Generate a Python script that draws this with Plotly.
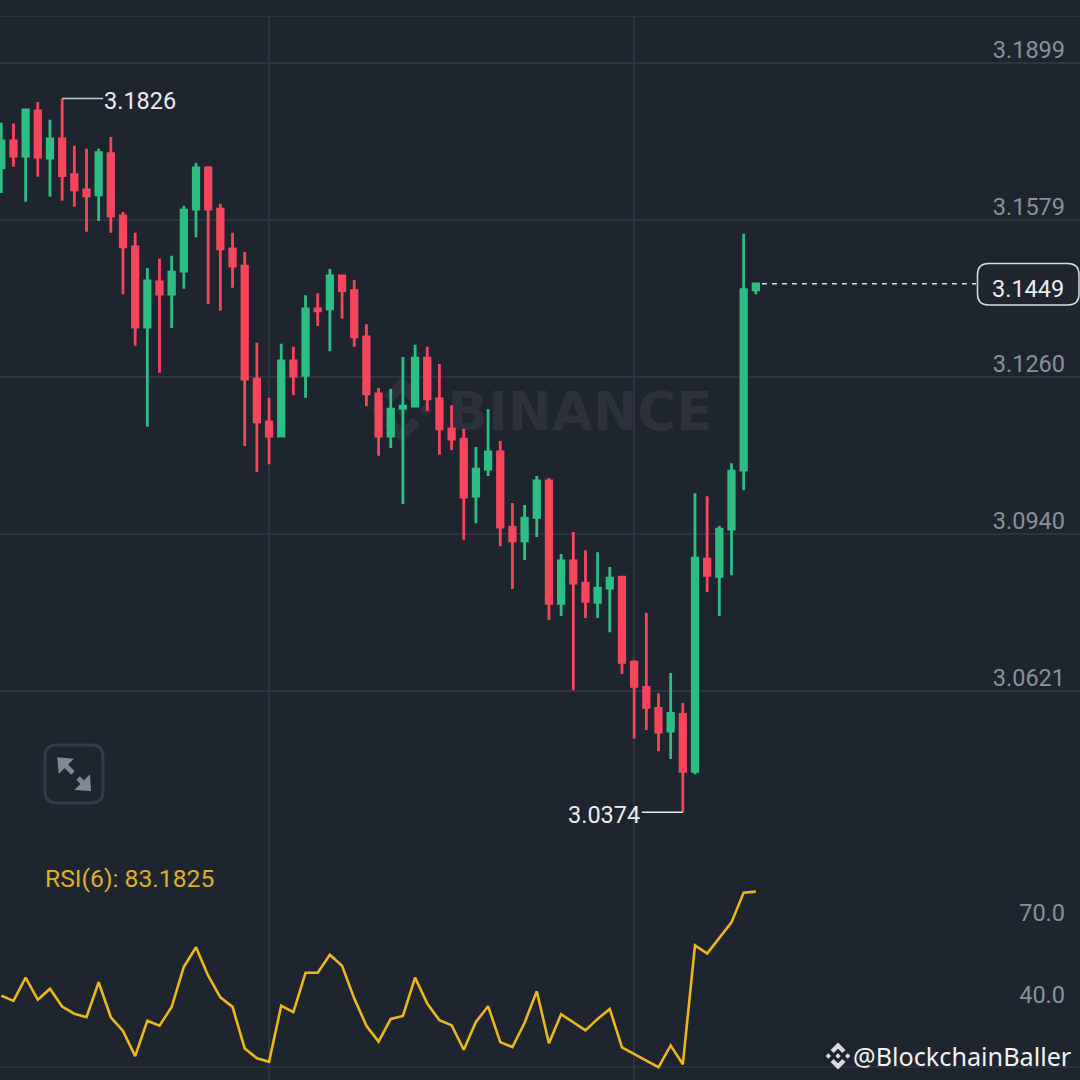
import plotly.graph_objects as go

# ---- data ----
opens = [3.1685,3.1740,3.1709,3.1801,3.1705,3.1744,3.1671,3.1640,3.1630,3.1714,
         3.1587,3.1524,3.1361,3.1453,3.1428,3.1475,3.1601,3.1685,3.1601,3.1520,
         3.1485,3.1255,3.1168,3.1139,3.1292,3.1263,3.1398,3.1398,3.1465,3.1435,
         3.1341,3.1225,3.1139,3.1196,3.1200,3.1298,3.1215,3.1154,3.1133,3.1017,
         3.1072,3.1107,3.0954,3.0926,3.0974,3.1048,3.0799,3.0885,3.0840,3.0801,
         3.0830,3.0852,3.0679,3.0628,3.0585,3.0539,3.0573,3.0457,3.0889,3.0854,
         3.0950,3.1070,3.1437]
highs = [3.1777,3.1775,3.1805,3.1819,3.1783,3.1826,3.1730,3.1724,3.1724,3.1748,
         3.1595,3.1553,3.1481,3.1500,3.1506,3.1608,3.1695,3.1689,3.1612,3.1553,
         3.1514,3.1329,3.1217,3.1327,3.1321,3.1426,3.1430,3.1479,3.1465,3.1457,
         3.1367,3.1237,3.1235,3.1300,3.1325,3.1321,3.1286,3.1202,3.1154,3.1117,
         3.1194,3.1129,3.1003,3.0999,3.1058,3.1054,3.0899,3.0944,3.0907,3.0903,
         3.0873,3.0854,3.0683,3.0779,3.0616,3.0657,3.0596,3.1023,3.1017,3.0956,
         3.1084,3.1551,3.1451]
lows = [3.1634,3.1687,3.1616,3.1667,3.1626,3.1618,3.1606,3.1555,3.1577,3.1553,
        3.1428,3.1323,3.1158,3.1268,3.1359,3.1439,3.1544,3.1408,3.1394,3.1441,
        3.1119,3.1066,3.1082,3.1139,3.1223,3.1217,3.1363,3.1312,3.1378,3.1321,
        3.1200,3.1099,3.1115,3.1001,3.1200,3.1190,3.1101,3.1111,3.0928,3.0962,
        3.1058,3.0915,3.0828,3.0887,3.0934,3.0765,3.0773,3.0622,3.0769,3.0769,
        3.0740,3.0655,3.0524,3.0541,3.0498,3.0482,3.0374,3.0451,3.0822,3.0773,
        3.0856,3.1029,3.1428]
closes = [3.1740,3.1709,3.1803,3.1707,3.1744,3.1669,3.1640,3.1628,3.1716,3.1587,
          3.1524,3.1361,3.1455,3.1428,3.1473,3.1599,3.1685,3.1601,3.1520,3.1485,
          3.1255,3.1168,3.1139,3.1292,3.1261,3.1398,3.1394,3.1465,3.1435,3.1341,
          3.1225,3.1139,3.1194,3.1200,3.1298,3.1215,3.1154,3.1133,3.1015,3.1072,
          3.1107,3.0954,3.0926,3.0972,3.1048,3.0799,3.0885,3.0840,3.0803,3.0830,
          3.0850,3.0679,3.0630,3.0587,3.0537,3.0575,3.0457,3.0891,3.0856,3.0950,
          3.1068,3.1437,3.1449]
rsi = [45.1,43.2,51.7,43.6,47.6,41.1,38.5,37.2,50.0,37.2,
       32.2,23.0,35.9,34.1,41.0,55.7,62.8,52.4,44.5,41.0,
       25.8,22.2,20.9,41.4,39.1,53.5,53.5,60.1,56.0,44.1,
       34.1,28.3,36.6,37.7,51.7,42.2,36.1,34.3,25.3,35.5,
       41.2,28.1,26.3,35.2,46.7,27.7,38.3,35.4,32.4,36.6,
       40.2,26.2,23.6,21.3,18.9,26.9,20.0,63.5,60.5,66.1,
       71.9,82.8,83.18]
price_ticks = [3.1899, 3.1579, 3.1260, 3.0940, 3.0621, 3.0301]
rsi_ticks = [70.0, 40.0]
time_grid = [22, 52]
last_price = 3.1449
high_label = 3.1826
low_label = 3.0374
high_idx = 5
low_idx = 56

BG = "#1F252F"
GRID = "#2E343F"
GREEN = "#2EBD85"
RED = "#F6465D"
GOLD = "#ECB61D"
AXIS_TXT = "#8A909B"
WHITE = "#EAECEF"
WM = "#2C313C"
FONT = "Roboto"

idx = list(range(len(opens)))
W = H = 1080
STEP = 12.17
X0 = 1.3
x_range = [(0 - X0) / STEP, (W - X0) / STEP]


def px(x, y):
    return x / W, 1 - y / H


def poly(points):
    parts = []
    for k, (x, y) in enumerate(points):
        a, b = px(x, y)
        parts.append(("M" if k == 0 else "L") + f"{a:.5f},{b:.5f}")
    return " ".join(parts) + " Z"


def round_rect(x0, y0, x1, y1, r):
    def P(x, y):
        a, b = px(x, y)
        return f"{a:.5f},{b:.5f}"
    return (f"M{P(x0+r,y0)} L{P(x1-r,y0)} Q{P(x1,y0)} {P(x1,y0+r)} L{P(x1,y1-r)} Q{P(x1,y1)} {P(x1-r,y1)} "
            f"L{P(x0+r,y1)} Q{P(x0,y1)} {P(x0,y1-r)} L{P(x0,y0+r)} Q{P(x0,y0)} {P(x0+r,y0)} Z")


def logo(cx, cy, r, color, layer="above"):
    out = []
    polys = []
    for dx in (-0.72, 0, 0.72):
        d = 0.2
        polys.append([(dx, -d), (dx + d, 0), (dx, d), (dx - d, 0)])
    top = [(0, -1), (.55, -.45), (.32, -.22), (0, -.54), (-.32, -.22), (-.55, -.45)]
    polys.append(top)
    polys.append([(a, -b) for a, b in top])
    for p in polys:
        out.append(dict(type="path", xref="paper", yref="paper", layer=layer, line_width=0, fillcolor=color,
                        path=poly([(cx + a * r, cy + b * r) for a, b in p])))
    return out


fig = go.Figure()
fig.add_trace(go.Candlestick(
    x=idx, open=opens, high=highs, low=lows, close=closes,
    xaxis="x", yaxis="y", whiskerwidth=0,
    increasing=dict(line=dict(color=GREEN, width=2.8), fillcolor=GREEN),
    decreasing=dict(line=dict(color=RED, width=2.8), fillcolor=RED),
    hoverinfo="skip", showlegend=False))
fig.add_trace(go.Scatter(
    x=idx, y=rsi, mode="lines", xaxis="x2", yaxis="y2",
    line=dict(color=GOLD, width=2.6), hoverinfo="skip", showlegend=False))

shapes = []
# top border and RSI panel bottom line
shapes.append(dict(type="line", xref="paper", yref="y", x0=0, x1=1, y0=3.1994, y1=3.1994,
                   line=dict(color=GRID, width=1.5), layer="below"))
shapes.append(dict(type="line", xref="paper", yref="y2", x0=0, x1=1, y0=19, y1=19,
                   line=dict(color=GRID, width=1.5), layer="below"))
# watermark
a, b = px(440, 382)
c, d = px(720, 432)
shapes.append(dict(type="rect", xref="paper", yref="paper", x0=a, x1=c, y0=d, y1=b, layer="below",
                   line_width=0, fillcolor="rgba(0,0,0,0)",
                   label=dict(text="<b>BINANCE</b>", textposition="middle center",
                              font=dict(family="DejaVu Sans", size=53, color=WM))))
shapes += logo(402, 410, 33, WM, layer="below")
# high / low leaders
shapes.append(dict(type="line", xref="x", yref="y", x0=high_idx, x1=high_idx + 41 / STEP, y0=high_label, y1=high_label,
                   line=dict(color="#C9CCD2", width=1.5)))
shapes.append(dict(type="line", xref="x", yref="y", x0=low_idx, x1=low_idx - 41 / STEP, y0=low_label, y1=low_label,
                   line=dict(color=WHITE, width=1.5)))
# last price line and box
shapes.append(dict(type="line", xref="x", yref="y", x0=len(opens) - 1 + 0.5, x1=(976 - X0) / STEP,
                   y0=last_price, y1=last_price, line=dict(color="#D8DBE0", width=1.5, dash="5px,5px")))
shapes.append(dict(type="path", xref="paper", yref="paper", path=round_rect(977.5, 263.5, 1079, 305, 11),
                   line=dict(color="#D8DBE0", width=1.5), fillcolor=BG))
# expand icon
shapes.append(dict(type="path", xref="paper", yref="paper", path=round_rect(45, 745, 103, 803, 12),
                   line=dict(color="#353B47", width=3), fillcolor="rgba(0,0,0,0)"))
ICON = "#7F8897"
shapes.append(dict(type="path", xref="paper", yref="paper", line_width=0, fillcolor=ICON,
                   path=poly([(57.3, 757.3), (74, 758.7), (58.7, 774)])))
shapes.append(dict(type="path", xref="paper", yref="paper", line_width=0, fillcolor=ICON,
                   path=poly([(91, 791), (74.3, 790), (90, 774.3)])))
for p0, p1 in (((65, 765), (73, 773)), ((78, 778), (84, 784))):
    (x0, y0), (x1, y1) = px(*p0), px(*p1)
    shapes.append(dict(type="line", xref="paper", yref="paper", x0=x0, y0=y0, x1=x1, y1=y1,
                       line=dict(color=ICON, width=5)))
shapes += logo(838, 1056, 13.5, "#DADCE0")

anns = [
    dict(xref="x", yref="y", x=high_idx + 40 / STEP, y=high_label, xanchor="left", yanchor="middle", yshift=-2,
         text=f"{high_label:.4f}", showarrow=False, font=dict(family=FONT, size=23.5, color=WHITE)),
    dict(xref="x", yref="y", x=low_idx - 41 / STEP, y=low_label, xanchor="right", yanchor="middle", yshift=-3,
         text=f"{low_label:.4f}", showarrow=False, font=dict(family=FONT, size=23.5, color=WHITE)),
    dict(xref="paper", yref="y", x=1066 / W, y=last_price, xanchor="right", yanchor="middle", yshift=-5,
         text=f"{last_price:.4f}", showarrow=False, font=dict(family=FONT, size=23.5, color=WHITE)),
    dict(xref="paper", yref="paper", x=43 / W, y=1 - 878 / H, xanchor="left", yanchor="middle",
         text="RSI(6): 83.1825", showarrow=False, font=dict(family=FONT, size=24.7, color="#DDB02A")),
    dict(xref="paper", yref="paper", x=1074 / W, y=1 - 1056 / H, xanchor="right", yanchor="middle",
         text="@BlockchainBaller", showarrow=False, font=dict(family="Noto Sans", size=25.2, color="#F0F1F3")),
]

fig.update_layout(
    width=W, height=H, autosize=False, margin=dict(l=0, r=0, t=0, b=0, pad=0),
    paper_bgcolor=BG, plot_bgcolor=BG, showlegend=False, hovermode=False,
    boxgap=0.36,
    font=dict(family=FONT, color=AXIS_TXT),
    xaxis=dict(domain=[0, 1], range=x_range, anchor="y", tickvals=time_grid, showticklabels=False, ticks="",
               showgrid=True, gridcolor=GRID, gridwidth=1.5, zeroline=False, showline=False,
               rangeslider=dict(visible=False), fixedrange=True),
    xaxis2=dict(domain=[0, 1], range=x_range, anchor="y2", tickvals=time_grid, showticklabels=False, ticks="",
                showgrid=True, gridcolor=GRID, gridwidth=1.5, zeroline=False, showline=False, fixedrange=True),
    yaxis=dict(domain=[1 - 848 / H, 1 - 16 / H], range=[3.0301, 3.1994], anchor="x", side="right",
               tickvals=price_ticks, ticktext=[f"{v:.4f}" for v in price_ticks],
               ticklabelposition="inside", ticklabelshift=-13, ticklabelstandoff=12, ticks="",
               tickfont=dict(family=FONT, size=23.5, color=AXIS_TXT),
               showgrid=True, gridcolor=GRID, gridwidth=1.5, zeroline=False, showline=False, fixedrange=True),
    yaxis2=dict(domain=[0, 1 - 848 / H], range=[14.24, 99.13], anchor="x2", side="right",
                tickvals=rsi_ticks, ticktext=[f"{v:.1f}" for v in rsi_ticks],
                ticklabelposition="inside", ticklabelshift=-15, ticklabelstandoff=12, ticks="",
                tickfont=dict(family=FONT, size=23.5, color=AXIS_TXT),
                showgrid=False, zeroline=False, showline=False, fixedrange=True),
    shapes=shapes, annotations=anns,
)
post = ("document.body.style.margin='0';document.body.style.background='%s';"
        "document.documentElement.style.overflow='hidden';" % BG)
fig.write_html("out.html", config=dict(displayModeBar=False), post_script=post)
